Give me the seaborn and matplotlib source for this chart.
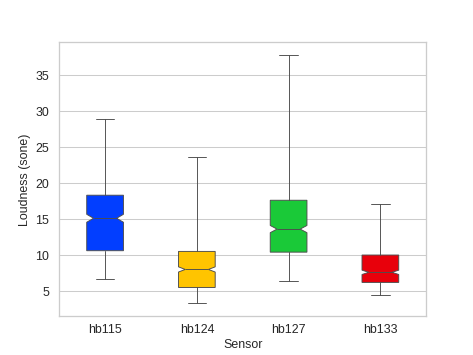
import matplotlib
matplotlib.use("Agg")
import matplotlib.pyplot as plt
import seaborn as sns

sensors = ["hb115", "hb124", "hb127", "hb133"]
whisker_low = [6.7, 3.3, 6.4, 4.5]
q1 = [10.6, 5.5, 10.4, 6.2]
median = [15.1, 8.0, 13.6, 7.6]
q3 = [18.3, 10.5, 17.6, 10.0]
whisker_high = [28.9, 23.6, 37.8, 17.1]
notch_half = [0.55, 0.36, 0.5, 0.3]

sns.set_theme(style="whitegrid")
plt.rcParams["font.family"] = ["Liberation Sans", "DejaVu Sans"]
palette = sns.color_palette("bright")
colors = [palette[0], palette[8], palette[2], palette[3]]

fig, ax = plt.subplots(figsize=(6.4, 4.8), dpi=74)

stats = []
for i, s in enumerate(sensors):
    stats.append(dict(
        label=s, whislo=whisker_low[i], q1=q1[i], med=median[i], q3=q3[i],
        whishi=whisker_high[i], cilo=median[i] - notch_half[i],
        cihi=median[i] + notch_half[i], fliers=[]))

line_col = (0.3, 0.3, 0.3)
lw = 0.9
width = 0.4
positions = list(range(len(sensors)))
art = ax.bxp(stats, positions=positions, widths=width, shownotches=True,
             patch_artist=True, showfliers=False,
             boxprops=dict(edgecolor=line_col, linewidth=lw),
             medianprops=dict(color=line_col, linewidth=lw),
             whiskerprops=dict(color=line_col, linewidth=lw),
             capprops=dict(color=line_col, linewidth=lw))
# shallower notch (notch waist about 63% of the box width)
waist = 0.315 * width
for patch, c, pos, med, mline in zip(art["boxes"], colors, positions, median, art["medians"]):
    patch.set_facecolor(c)
    path = patch.get_path()
    verts = path.vertices.copy()
    for v in verts:
        if abs(v[1] - med) < 1e-9:
            v[0] = pos + waist if v[0] > pos else pos - waist
    path.vertices = verts
    mline.set_xdata([pos - waist, pos + waist])

ax.set_xlim(-0.5, len(sensors) - 0.5)
ax.set_xticks(positions)
ax.set_xticklabels(sensors)
ax.set_yticks([5, 10, 15, 20, 25, 30, 35])
ax.set_ylim(1.55, 39.5)
ax.xaxis.grid(False)
ax.tick_params(labelsize=12)
ax.tick_params(axis="x", pad=1.5)
ax.set_xlabel("Sensor", fontsize=12, labelpad=3)
ax.set_ylabel("Loudness (sone)", fontsize=12)

fig.savefig("out.png", dpi=74)
